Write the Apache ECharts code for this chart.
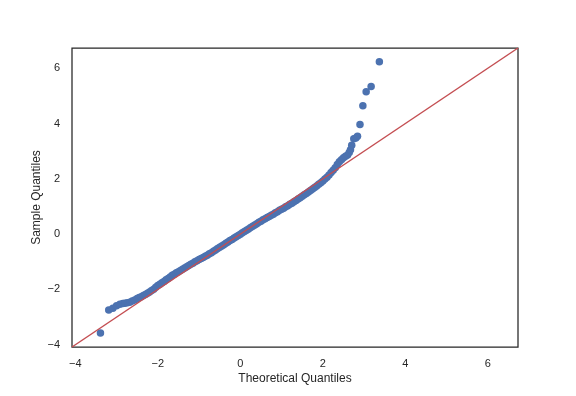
<!DOCTYPE html>
<html>
<head>
<meta charset="utf-8">
<script src="https://cdn.jsdelivr.net/npm/echarts@6/dist/echarts.min.js"></script>
<style>
html,body{margin:0;padding:0;background:#fff;}
#chart{width:576px;height:396px;}
</style>
</head>
<body>
<div id="chart"></div>
<script>
// Theoretical quantiles (x)
const theoreticalQuantiles = [
  -3.39, -3.19, -3.09, -3.00, -2.92, -2.85, -2.80, -2.74, -2.68, -2.62, -2.56, -2.50, -2.45,
  -2.40, -2.35, -2.30, -2.25, -2.20, -2.15, -2.10, -2.05, -2.00, -1.95, -1.90, -1.85, -1.80,
  -1.75, -1.70, -1.65, -1.60, -1.55, -1.50, -1.45, -1.40, -1.35, -1.30, -1.25, -1.20, -1.15,
  -1.10, -1.05, -1.00, -0.95, -0.90, -0.85, -0.80, -0.75, -0.70, -0.65, -0.60, -0.55, -0.50,
  -0.45, -0.40, -0.35, -0.30, -0.25, -0.20, -0.15, -0.10, -0.05, 0.00, 0.05, 0.10, 0.15,
  0.20, 0.25, 0.30, 0.35, 0.40, 0.45, 0.50, 0.55, 0.60, 0.65, 0.70, 0.75, 0.80, 0.85,
  0.90, 0.95, 1.00, 1.05, 1.10, 1.15, 1.20, 1.25, 1.30, 1.35, 1.40, 1.45, 1.50, 1.55,
  1.60, 1.65, 1.70, 1.75, 1.80, 1.85, 1.90, 1.95, 2.00, 2.05, 2.10, 2.15, 2.20, 2.25,
  2.30, 2.35, 2.40, 2.45, 2.50, 2.55, 2.60, 2.64, 2.67, 2.70, 2.75, 2.80, 2.84, 2.90,
  2.97, 3.05, 3.17, 3.37
];
// Sample quantiles (y)
const sampleQuantiles = [
  -3.57, -2.74, -2.68, -2.59, -2.53, -2.51, -2.50, -2.48, -2.46, -2.42, -2.38, -2.33, -2.29,
  -2.26, -2.22, -2.18, -2.14, -2.09, -2.04, -1.99, -1.92, -1.86, -1.81, -1.76, -1.71, -1.65,
  -1.60, -1.55, -1.49, -1.45, -1.40, -1.36, -1.31, -1.27, -1.22, -1.18, -1.13, -1.09, -1.05,
  -1.00, -0.96, -0.92, -0.88, -0.84, -0.80, -0.76, -0.71, -0.67, -0.62, -0.57, -0.52, -0.47,
  -0.43, -0.38, -0.33, -0.28, -0.23, -0.19, -0.14, -0.09, -0.05, 0.00, 0.05, 0.10, 0.14,
  0.19, 0.24, 0.29, 0.33, 0.38, 0.43, 0.47, 0.52, 0.56, 0.60, 0.64, 0.68, 0.72, 0.77,
  0.81, 0.86, 0.90, 0.94, 0.99, 1.03, 1.08, 1.12, 1.17, 1.22, 1.27, 1.32, 1.37, 1.42,
  1.47, 1.52, 1.58, 1.63, 1.69, 1.74, 1.80, 1.86, 1.92, 1.99, 2.06, 2.14, 2.23, 2.31,
  2.40, 2.52, 2.62, 2.69, 2.76, 2.82, 2.86, 2.95, 3.05, 3.21, 3.45, 3.48, 3.54, 3.96,
  4.64, 5.15, 5.34, 6.23
];
// Shared axis limits (both axes) and tick labels
const axisLimits = [-4.08, 6.73];
const tickValues = [-4, -2, 0, 2, 4, 6];

const points = theoreticalQuantiles.map((x, i) => [x, sampleQuantiles[i]]);
const refLine = axisLimits.map(v => [v, v]);

const fmt = v => (v < 0 ? '\u2212' + Math.abs(v) : String(v));
const labelStyle = { fontFamily: 'Liberation Sans, Arial, sans-serif', fontSize: 11, color: '#262626' };

const chart = echarts.init(document.getElementById('chart'), null, { renderer: 'canvas' });
chart.setOption({
  animation: false,
  backgroundColor: '#ffffff',
  grid: { left: 72, right: 58, top: 48, bottom: 49, show: true, borderColor: '#262626', borderWidth: 1.25, backgroundColor: 'transparent' },
  xAxis: {
    type: 'value', min: axisLimits[0], max: axisLimits[1],
    name: 'Theoretical Quantiles', nameLocation: 'middle', nameGap: 26, nameMoveOverlap: false,
    nameTextStyle: { fontFamily: 'Liberation Sans, Arial, sans-serif', fontSize: 12, color: '#262626' },
    axisLine: { show: false }, axisTick: { show: false }, splitLine: { show: false },
    axisLabel: Object.assign({ customValues: tickValues, formatter: fmt, margin: 11 }, labelStyle)
  },
  yAxis: {
    type: 'value', min: axisLimits[0], max: axisLimits[1],
    name: 'Sample Quantiles', nameLocation: 'middle', nameGap: 29, nameRotate: 90, nameMoveOverlap: false,
    nameTextStyle: { fontFamily: 'Liberation Sans, Arial, sans-serif', fontSize: 12, color: '#262626' },
    axisLine: { show: false }, axisTick: { show: false }, splitLine: { show: false },
    axisLabel: Object.assign({ customValues: tickValues, formatter: fmt, margin: 12 }, labelStyle)
  },
  series: [
    {
      type: 'scatter', data: points, symbolSize: 7.5,
      itemStyle: { color: '#4c72b0', opacity: 1 }, z: 2
    },
    {
      type: 'line', data: refLine, showSymbol: false, symbol: 'none',
      lineStyle: { color: '#c44e52', width: 1.5 }, z: 3
    }
  ]
});
</script>
</body>
</html>
